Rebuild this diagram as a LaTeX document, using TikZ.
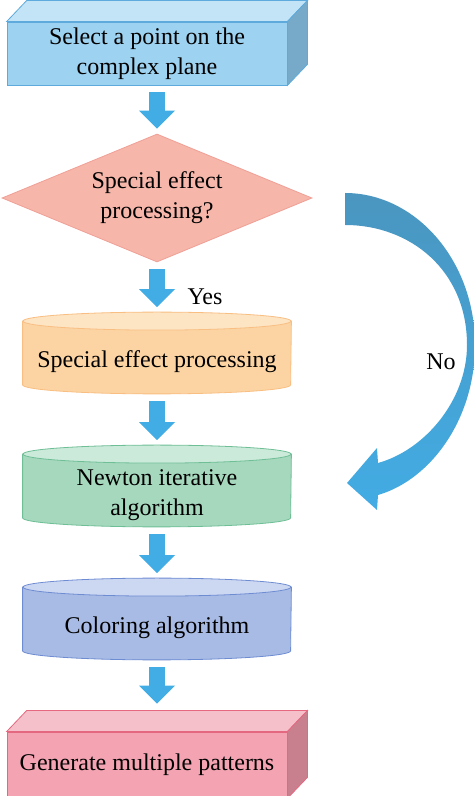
\documentclass[tikz,border=0pt]{standalone}
\usepackage{fontspec}
\setmainfont{Liberation Serif}
\usepackage{tikz}
\usetikzlibrary{shapes.geometric,arrows.meta,backgrounds,calc}
\definecolor{selfront}{RGB}{157,210,240}
\definecolor{seltop}{RGB}{195,228,247}
\definecolor{selside}{RGB}{118,170,200}
\definecolor{seledge}{RGB}{95,170,220}
\definecolor{decfill}{RGB}{246,182,170}
\definecolor{decedge}{RGB}{240,160,150}
\definecolor{spebody}{RGB}{252,212,163}
\definecolor{spetop}{RGB}{253,228,195}
\definecolor{speedge}{RGB}{248,190,130}
\definecolor{newtbody}{RGB}{166,216,190}
\definecolor{newttop}{RGB}{204,234,218}
\definecolor{newtedge}{RGB}{110,190,150}
\definecolor{colbody}{RGB}{168,187,228}
\definecolor{coltop}{RGB}{204,215,242}
\definecolor{coledge}{RGB}{110,140,210}
\definecolor{genfront}{RGB}{243,163,178}
\definecolor{gentop}{RGB}{246,192,202}
\definecolor{genside}{RGB}{200,128,142}
\definecolor{genedge}{RGB}{228,105,128}
\definecolor{flowblue}{RGB}{66,172,228}
\definecolor{nodark}{RGB}{74,150,192}
\tikzset{every path/.style={line width=0.8pt}}
\tikzset{
  txt/.style={font=\fontsize{24}{30}\selectfont,align=center,inner sep=0pt},
  face/.style={txt,minimum width=280pt,minimum height=63pt},
  decision/.style={txt,diamond,aspect=2.4,minimum width=310pt,minimum height=128pt,draw=decedge,fill=decfill},
  drum/.style={txt,minimum width=268pt,minimum height=63pt},
  flow/.style={draw=flowblue,line width=16pt,-{Triangle[width=36pt,length=18pt,line width=0pt]},shorten <=7pt,shorten >=5pt}
}
\newcommand{\cuboid}[4]{%
  \draw[draw=#4,fill=#2] (#1.north west) -- ++(20,21) -- ($(#1.north east)+(20,21)$) -- (#1.north east) -- cycle;
  \draw[draw=#4,fill=#3] (#1.north east) -- ++(20,21) -- ($(#1.south east)+(20,21)$) -- (#1.south east) -- cycle;
}
\newcommand{\drum}[4]{%
  \draw[draw=#4,fill=#2] ([yshift=9pt]#1.north west) -- ([yshift=9pt]#1.south west)
    arc[start angle=180,end angle=360,x radius=134pt,y radius=9pt] -- ([yshift=9pt]#1.north east) -- cycle;
  \draw[draw=#4,fill=#3] ([yshift=9pt]#1.north) ellipse [x radius=134pt,y radius=9pt];
}

\begin{document}
\begin{tikzpicture}[x=1pt,y=1pt]
\useasboundingbox (0,0) rectangle (474,796);
\node[face,draw=seledge,fill=selfront] (sel) at (147,742.5) {Select a point on the\\complex plane};
\node[decision] (dec) at (157,598) {Special effect\\processing?};
\node[drum] (spe) at (157,434) {Special effect processing};
\node[drum] (newt) at (157,301) {Newton iterative\\algorithm};
\node[drum] (col) at (157,168) {Coloring algorithm};
\node[face,minimum height=66pt,draw=genedge,fill=genfront] (gen) at (147,31) {Generate multiple patterns};
\node[txt] (yes) at (205,499) {Yes};
\node[txt] (no) at (441,434) {No};
\begin{scope}[on background layer]
\cuboid{sel}{seltop}{selside}{seledge}
\drum{spe}{spebody}{spetop}{speedge}
\drum{newt}{newtbody}{newttop}{newtedge}
\drum{col}{colbody}{coltop}{coledge}
\cuboid{gen}{gentop}{genside}{genedge}
\end{scope}
\draw[flow] (sel.south -| dec.north) -- (dec.north);
\draw[flow] (dec.south) -- ([yshift=18pt]spe.north);
\draw[flow] (spe.south) -- ([yshift=18pt]newt.north);
\draw[flow] (newt.south) -- ([yshift=18pt]col.north);
\draw[flow,shorten >=7pt] (col.south) -- ($(col.south |- gen.north)+(0,21)$);
\shade[top color=nodark,bottom color=flowblue] (345,603) .. controls (416,603) and (475,535) .. (475,451)
  .. controls (475,376) and (430,316) .. (378,301) -- (377,286) -- (347,313) -- (377,348) -- (378,333)
  .. controls (425,346) and (467,396) .. (467,451) .. controls (467,526) and (410,571) .. (345,571) -- cycle;
\end{tikzpicture}
\end{document}
